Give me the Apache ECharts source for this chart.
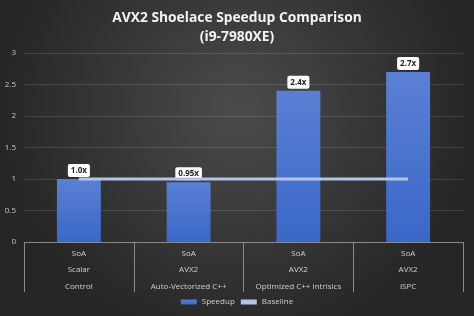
<!DOCTYPE html>
<html><head><meta charset="utf-8">
<style>html,body{margin:0;padding:0;background:#333;}#c{width:474px;height:316px;}</style>
<script src="https://cdn.jsdelivr.net/npm/echarts@6/dist/echarts.min.js"></script>
</head><body><div id="c"></div>
<script>
const categories = ["SoA\nScalar\nControl", "SoA\nAVX2\nAuto-Vectorized C++", "SoA\nAVX2\nOptimized C++ Intrisics", "SoA\nAVX2\nISPC"];
const speedup = [1.0, 0.95, 2.4, 2.7];
const speedupLabels = ["1.0x", "0.95x", "2.4x", "2.7x"];
const baseline = [1, 1, 1, 1];
const yTicks = [0, 0.5, 1, 1.5, 2, 2.5, 3];

const chart = echarts.init(document.getElementById('c'));
chart.setOption({
  animation: false,
  backgroundColor: {type:'radial', x:0.5, y:0.35, r:0.75, colorStops:[{offset:0,color:'#4b4b4b'},{offset:1,color:'#262626'}]},
  title: {
    text: 'AVX2 Shoelace Speedup Comparison\n(i9-7980XE)',
    left: 'center', top: 4,
    textStyle: {color:'#f2f2f2', fontFamily:'Open Sans', fontWeight:'bold', fontSize:13.8, lineHeight:19}
  },
  legend: {
    bottom: 5, left: 'center', itemGap: 6, itemWidth: 16, itemHeight: 5,
    textStyle: {color:'#cfcfcf', fontSize:8, fontFamily:'Open Sans'},
    data: [{name:'Speedup', icon:'rect'}, {name:'Baseline', icon:'rect'}]
  },
  grid: {left:24, right:11, top:53, bottom:74},
  xAxis: {
    type:'category', data: categories,
    axisLine: {show:true, lineStyle:{color:'#8a8a8a', width:1}},
    axisTick: {show:true, length:50, lineStyle:{color:'#8a8a8a'}},
    axisLabel: {color:'#d0d0d0', fontSize:8, fontFamily:'Open Sans', lineHeight:16.5, margin:3, interval:0}
  },
  yAxis: {
    type:'value', min: yTicks[0], max: yTicks[yTicks.length-1], interval: 0.5,
    axisLine:{show:false}, axisTick:{show:false},
    axisLabel:{color:'#c8c8c8', fontSize:8, fontFamily:'Open Sans', margin:8},
    splitLine:{lineStyle:{color:'rgba(255,255,255,0.13)'}}
  },
  series: [
    {
      name:'Speedup', type:'bar', data: speedup, barWidth:'40%',
      itemStyle:{color:{type:'linear',x:0,y:0,x2:0,y2:1,colorStops:[{offset:0,color:'#5a80d4'},{offset:1,color:'#3a67c8'}]}},
      label:{show:true, position:'top', distance:2, formatter: p => speedupLabels[p.dataIndex],
        backgroundColor:'#ffffff', color:'#222', fontWeight:'bold', fontSize:8, fontFamily:'Open Sans',
        padding:[3,3,2,3], borderRadius:2},
      z: 2
    },
    {
      name:'Baseline', type:'line', data: baseline, symbol:'none',
      lineStyle:{color:'#b3c6ea', width:3}, itemStyle:{color:'#b3c6ea'}, z: 3
    }
  ]
});
</script></body></html>
